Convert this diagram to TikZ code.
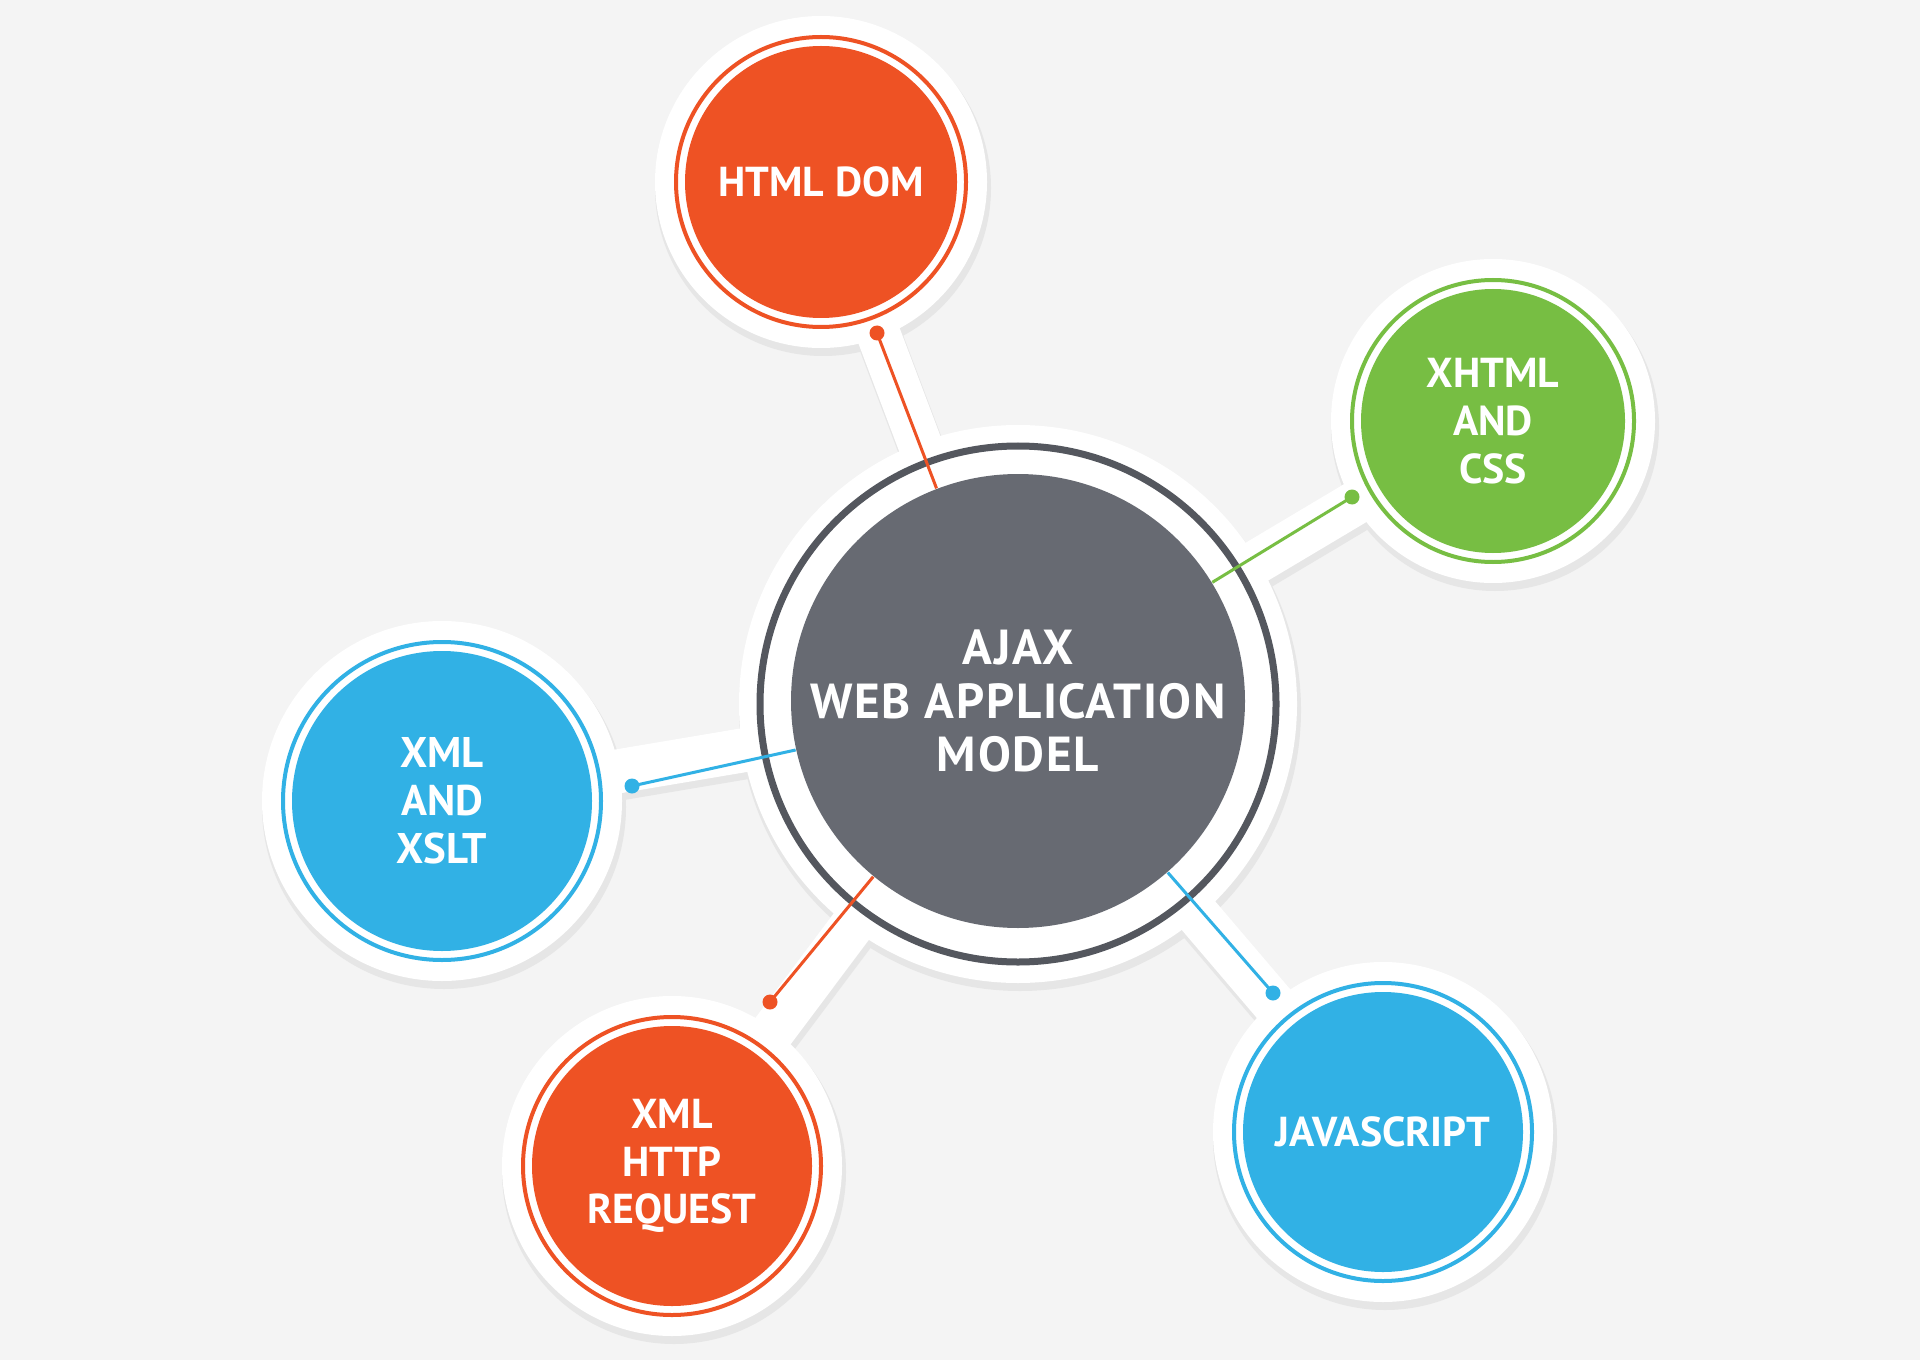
\documentclass[tikz,border=0pt]{standalone}
\usepackage{fontspec}
\setmainfont{PT Sans}
\usepackage{tikz}

\definecolor{bgGray}{HTML}{F4F4F4}
\definecolor{shadeGray}{HTML}{E6E6E6}
\definecolor{ajaxRed}{HTML}{EE5224}
\definecolor{ajaxGreen}{HTML}{77BE43}
\definecolor{ajaxBlue}{HTML}{31B1E5}
\definecolor{ajaxGray}{HTML}{676A72}
\definecolor{ajaxRing}{HTML}{54575E}

\begin{document}
\begin{tikzpicture}[
	halo/.style={fill=white},
	shade/.style={fill=shadeGray},
	neck/.style={white, line width=0.44cm},
	neckshade/.style={shadeGray, line width=0.46cm},
	sat/.style={circle, text=white, align=center, font=\bfseries\fontsize{11.9pt}{13.6pt}\selectfont},
	link/.style={line width=0.03cm}
]
	\tikzstyle{every node}+=[inner sep=0pt]
	\fill [bgGray] (0,0) rectangle (19.2,-13.6);
	% centres
	\coordinate (c-main) at (10.18,-7.04);
	\coordinate (c-dom) at (8.21,-1.82);
	\coordinate (c-css) at (14.93,-4.21);
	\coordinate (c-xslt) at (4.42,-8.01);
	\coordinate (c-xhr) at (6.72,-11.66);
	\coordinate (c-js) at (13.83,-11.32);
	% shadows
	\draw [neckshade] ([shift={(0.02,-0.06)}]c-main) -- ([shift={(0.02,-0.06)}]c-dom);
	\draw [neckshade] ([shift={(0.02,-0.06)}]c-main) -- ([shift={(0.02,-0.06)}]c-css);
	\draw [neckshade] ([shift={(0.02,-0.06)}]c-main) -- ([shift={(0.02,-0.06)}]c-xslt);
	\draw [neckshade] ([shift={(0.02,-0.06)}]c-main) -- ([shift={(0.02,-0.06)}]c-xhr);
	\draw [neckshade] ([shift={(0.02,-0.06)}]c-main) -- ([shift={(0.02,-0.06)}]c-js);
	\fill [shade] ([shift={(0.02,-0.06)}]c-main) circle (2.81);
	\fill [shade] ([shift={(0.02,-0.06)}]c-dom) circle (1.68);
	\fill [shade] ([shift={(0.02,-0.06)}]c-css) circle (1.64);
	\fill [shade] ([shift={(0.02,-0.06)}]c-xslt) circle (1.82);
	\fill [shade] ([shift={(0.02,-0.06)}]c-xhr) circle (1.72);
	\fill [shade] ([shift={(0.02,-0.06)}]c-js) circle (1.72);
	% white halos
	\draw [neck] (c-main) -- (c-dom);
	\draw [neck] (c-main) -- (c-css);
	\draw [neck] (c-main) -- (c-xslt);
	\draw [neck] (c-main) -- (c-xhr);
	\draw [neck] (c-main) -- (c-js);
	\fill [halo] (c-main) circle (2.79);
	\fill [halo] (c-dom) circle (1.66);
	\fill [halo] (c-css) circle (1.62);
	\fill [halo] (c-xslt) circle (1.80);
	\fill [halo] (c-xhr) circle (1.70);
	\fill [halo] (c-js) circle (1.70);
	% rings
	\draw [ajaxRing, line width=0.07cm] (c-main) circle (2.58);
	\draw [ajaxRed, line width=0.04cm] (c-dom) circle (1.45);
	\draw [ajaxGreen, line width=0.04cm] (c-css) circle (1.41);
	\draw [ajaxBlue, line width=0.04cm] (c-xslt) circle (1.59);
	\draw [ajaxRed, line width=0.04cm] (c-xhr) circle (1.49);
	\draw [ajaxBlue, line width=0.04cm] (c-js) circle (1.49);
	% nodes
	\node [circle, fill=ajaxGray, minimum size=4.54cm, text=white, align=center,
		font=\bfseries\fontsize{14pt}{15.3pt}\selectfont\addfontfeature{LetterSpace=3.5}] (main) at ([yshift=0.03cm]c-main) {AJAX\\WEB APPLICATION\\MODEL};
	\node [sat, fill=ajaxRed, minimum size=2.72cm] (dom) at (c-dom) {HTML DOM};
	\node [sat, fill=ajaxGreen, minimum size=2.64cm] (css) at (c-css) {XHTML\\AND\\CSS};
	\node [sat, fill=ajaxBlue, minimum size=3.00cm, font=\bfseries\fontsize{12.2pt}{13.7pt}\selectfont] (xslt) at (c-xslt) {XML\\AND\\XSLT};
	\node [sat, fill=ajaxRed, minimum size=2.80cm] (xhr) at (c-xhr) {XML\\HTTP\\REQUEST};
	\node [sat, fill=ajaxBlue, minimum size=2.80cm] (js) at (c-js) {JAVASCRIPT};
	% links
	\coordinate (dom-dot) at (8.77,-3.33);
	\coordinate (css-dot) at (13.52,-4.97);
	\coordinate (xslt-dot) at (6.32,-7.86);
	\coordinate (xhr-dot) at (7.70,-10.02);
	\coordinate (js-dot) at (12.73,-9.93);
	\draw [link, ajaxRed] (main) -- (dom-dot);
	\fill [ajaxRed] (dom-dot) circle (0.075);
	\draw [link, ajaxGreen] (main) -- (css-dot);
	\fill [ajaxGreen] (css-dot) circle (0.075);
	\draw [link, ajaxBlue] (main) -- (xslt-dot);
	\fill [ajaxBlue] (xslt-dot) circle (0.075);
	\draw [link, ajaxRed] (main) -- (xhr-dot);
	\fill [ajaxRed] (xhr-dot) circle (0.075);
	\draw [link, ajaxBlue] (main) -- (js-dot);
	\fill [ajaxBlue] (js-dot) circle (0.075);
\end{tikzpicture}
\end{document}
